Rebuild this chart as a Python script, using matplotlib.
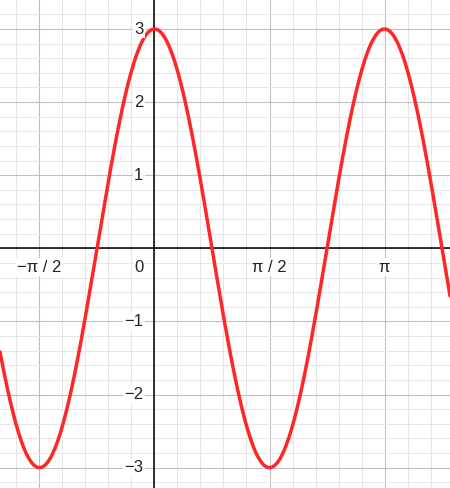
import numpy as np
import matplotlib
matplotlib.use("Agg")
import matplotlib.pyplot as plt
from matplotlib.ticker import MultipleLocator
import matplotlib.transforms as mtransforms

# Function parameters: y = AMPLITUDE * cos(FREQUENCY * x)
AMPLITUDE = 3.0
FREQUENCY = 2.0

x_tick_values = [-np.pi / 2, np.pi / 2, np.pi]
x_tick_labels = ["\u2212\u03c0 / 2", "\u03c0 / 2", "\u03c0"]
y_tick_values = [3, 2, 1, -1, -2, -3]
y_tick_labels = ["3", "2", "1", "\u22121", "\u22122", "\u22123"]

XLIM = (-2.110, 4.036)
YLIM = (-3.279, 3.397)

plt.rcParams['font.family'] = ['Liberation Sans', 'DejaVu Sans']

fig = plt.figure(figsize=(4.5, 4.88), dpi=100)
ax = fig.add_axes([0, 0, 1, 1])
ax.set_xlim(*XLIM)
ax.set_ylim(*YLIM)

ax.xaxis.set_major_locator(MultipleLocator(np.pi / 2))
ax.xaxis.set_minor_locator(MultipleLocator(np.pi / 10))
ax.yaxis.set_major_locator(MultipleLocator(1))
ax.yaxis.set_minor_locator(MultipleLocator(0.2))
ax.grid(which='major', color='#c0c0c0', linewidth=0.8)
ax.grid(which='minor', color='#e6e6e6', linewidth=0.7)
ax.set_axisbelow(True)
ax.tick_params(which='both', length=0, labelbottom=False, labelleft=False)
for s in ax.spines.values():
    s.set_visible(False)

ax.axhline(0, color='black', linewidth=1.1, zorder=2)
ax.axvline(0, color='black', linewidth=1.1, zorder=2)

xs = np.linspace(XLIM[0], XLIM[1], 2000)
ax.plot(xs, AMPLITUDE * np.cos(FREQUENCY * xs), color='#ff2626', linewidth=2.5,
        solid_capstyle='round', zorder=3)

box = dict(facecolor='white', edgecolor='none', pad=1.0)
txt_color = '#222222'
fs = 12

off_down = mtransforms.offset_copy(ax.transData, fig=fig, x=0, y=-19, units='dots')
for v, lab in zip(x_tick_values, x_tick_labels):
    ax.text(v, 0, lab, transform=off_down, ha='center', va='center', fontsize=fs,
            color=txt_color, bbox=box, zorder=4)

off_left = mtransforms.offset_copy(ax.transData, fig=fig, x=-11, y=0, units='dots')
for v, lab in zip(y_tick_values, y_tick_labels):
    ax.text(0, v, lab, transform=off_left, ha='right', va='center', fontsize=fs,
            color=txt_color, bbox=box, zorder=4)

off_origin = mtransforms.offset_copy(ax.transData, fig=fig, x=-11, y=-19, units='dots')
ax.text(0, 0, "0", transform=off_origin, ha='right', va='center', fontsize=fs,
        color=txt_color, bbox=box, zorder=4)

fig.savefig("out.png", dpi=100)
